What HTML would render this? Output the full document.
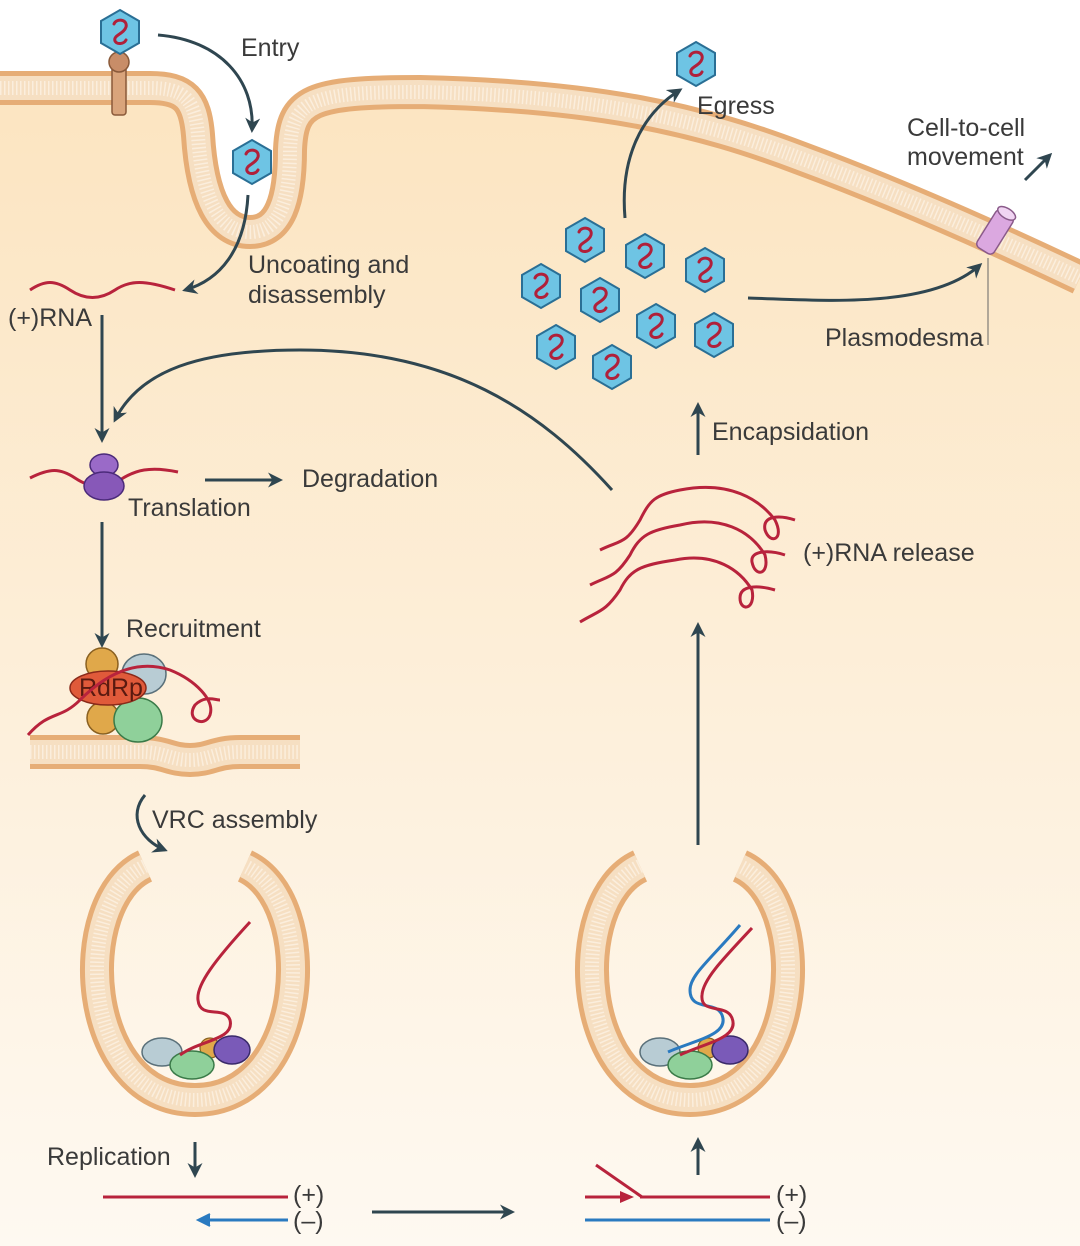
<!DOCTYPE html>
<html><head><meta charset="utf-8"><style>
html,body{margin:0;padding:0;background:#fff}
svg{display:block}
text{font-family:"Liberation Sans",sans-serif;fill:#3a3a3a;font-size:25px}
</style></head><body>
<svg width="1080" height="1246" viewBox="0 0 1080 1246" xmlns="http://www.w3.org/2000/svg">
<defs>
<linearGradient id="bg" x1="0" y1="0" x2="0" y2="1">
<stop offset="0" stop-color="#fce3bd"/><stop offset="0.6" stop-color="#fdf0dc"/><stop offset="1" stop-color="#fef9f1"/>
</linearGradient>
<marker id="ah" viewBox="0 0 10 10" refX="8" refY="5" markerWidth="5" markerHeight="5" orient="auto-start-reverse">
<path d="M0,0 L10,5 L0,10 L3,5 z" fill="#2f4650"/></marker>
<g id="vir">
<polygon points="0,-22 19,-11 19,11 0,22 -19,11 -19,-11" fill="#6ec4e4" stroke="#2a6f95" stroke-width="2"/>
<path d="M-6,-8 C-4,-14 8,-13 6,-5 C4,2 -7,3 -5,9 C-3,13 4,12 6,8" fill="none" stroke="#b0203a" stroke-width="3" stroke-linecap="round"/>
</g>
</defs>
<rect width="1080" height="1246" fill="url(#bg)"/>
<path d="M0,0 H1080 V272 C1000,240 900,190 800,150 C700,115 600,90 420,85 C330,82 300,90 290,120 C285,160 285,200 255,222 C220,230 205,190 200,130 C195,90 180,80 150,80 H0 z" fill="#fff"/>
<path id="m1" fill="none" d="M0,88 H150 C185,88 195,100 198,135 C202,200 220,232 250,232 C280,232 290,200 290,150 C292,100 310,92 420,92 C600,96 700,120 800,158 C900,195 1000,240 1080,278"/>
<use href="#m1" stroke="#e6ad76" stroke-width="34" fill="none"/>
<use href="#m1" stroke="#f6dfc2" stroke-width="24" fill="none"/>
<use href="#m1" stroke="#fbeedd" stroke-width="14" stroke-dasharray="1.5 2.5" fill="none"/>
<rect x="112" y="60" width="14" height="55" rx="3" fill="#d9a47b" stroke="#8a5a3a" stroke-width="1.5"/>
<circle cx="119" cy="62" r="10" fill="#c88d68" stroke="#8a5a3a" stroke-width="1.5"/>
<g transform="translate(995,232) rotate(-58)">
<rect x="-22" y="-10" width="44" height="20" rx="5" fill="#dba8e0" stroke="#8a5a8a" stroke-width="1.5"/>
<ellipse cx="22" cy="0" rx="5" ry="10" fill="#f0d4f2" stroke="#8a5a8a" stroke-width="1.5"/>
</g>
<line x1="988" y1="258" x2="988" y2="345" stroke="#666" stroke-width="1"/>
<use href="#vir" x="120" y="32"/>
<use href="#vir" x="252" y="162"/>
<use href="#vir" x="696" y="64"/>
<use href="#vir" x="585" y="240"/><use href="#vir" x="645" y="256"/><use href="#vir" x="705" y="270"/>
<use href="#vir" x="541" y="286"/><use href="#vir" x="600" y="300"/><use href="#vir" x="656" y="326"/>
<use href="#vir" x="714" y="335"/><use href="#vir" x="556" y="347"/><use href="#vir" x="612" y="367"/>
<g fill="none" stroke="#2f4650" stroke-width="3" marker-end="url(#ah)">
<path d="M158,35 C220,40 255,80 252,130"/>
<path d="M248,195 C245,250 220,280 185,290"/>
<path d="M102,315 V440"/>
<path d="M102,522 V645"/>
<path d="M205,480 H280"/>
<path d="M612,490 C540,410 450,350 300,350 C200,350 140,370 115,420"/>
<path d="M625,218 C620,160 640,115 680,90"/>
<path d="M748,298 C820,300 930,310 980,265"/>
<path d="M1025,180 L1050,155"/>
<path d="M698,455 V405"/>
<path d="M698,845 V625"/>
<path d="M145,795 C128,815 140,840 165,850"/>
<path d="M195,1142 V1175"/>
<path d="M372,1212 H512"/>
<path d="M698,1175 V1140"/>
</g>
<path d="M30,290 C45,280 55,280 70,290 S100,300 115,290 S145,280 175,290" fill="none" stroke="#b8233c" stroke-width="3"/>
<path d="M30,478 C50,468 60,468 75,478 S105,490 120,480 S150,466 178,472" fill="none" stroke="#b8233c" stroke-width="3"/>
<ellipse cx="104" cy="465" rx="14" ry="11" fill="#9a6ac8" stroke="#4b2a7a" stroke-width="1.5"/>
<ellipse cx="104" cy="486" rx="20" ry="14" fill="#8758b8" stroke="#4b2a7a" stroke-width="1.5"/>
<path id="m2" d="M30,752 H140 C165,752 170,760 190,760 C210,760 215,752 240,752 H300" fill="none"/>
<use href="#m2" stroke="#e6ad76" stroke-width="34" fill="none"/>
<use href="#m2" stroke="#f6dfc2" stroke-width="24" fill="none"/>
<use href="#m2" stroke="#fbeedd" stroke-width="14" stroke-dasharray="1.5 2.5" fill="none"/>
<circle cx="102" cy="664" r="16" fill="#e0a84a" stroke="#8a6020" stroke-width="1.5"/>
<circle cx="103" cy="718" r="16" fill="#e0a84a" stroke="#8a6020" stroke-width="1.5"/>
<ellipse cx="144" cy="674" rx="22" ry="20" fill="#b8ccd4" stroke="#5a707a" stroke-width="1.5"/>
<ellipse cx="138" cy="720" rx="24" ry="22" fill="#8fd09a" stroke="#3a7a48" stroke-width="1.5"/>
<ellipse cx="108" cy="688" rx="38" ry="17" fill="#e05a3a" stroke="#8a2a1a" stroke-width="1.5"/>
<text x="79" y="696" font-size="19" style="fill:#5a1a10">RdRp</text>
<path d="M28,735 C50,710 60,720 80,700 C110,670 140,660 170,670 C195,680 215,700 210,715 C205,728 185,720 195,705 C205,695 215,700 220,700" fill="none" stroke="#b8233c" stroke-width="3"/>
<path id="v1" d="M145,866 C70,900 80,1100 195,1100 C310,1100 320,900 245,866" fill="none"/>
<path id="v2" d="M640,866 C565,900 575,1100 690,1100 C805,1100 815,900 740,866" fill="none"/>
<g fill="none">
<use href="#v1" stroke="#e6ad76" stroke-width="34"/><use href="#v1" stroke="#f6dfc2" stroke-width="24"/><use href="#v1" stroke="#fbeedd" stroke-width="14" stroke-dasharray="1.5 2.5"/>
<use href="#v2" stroke="#e6ad76" stroke-width="34"/><use href="#v2" stroke="#f6dfc2" stroke-width="24"/><use href="#v2" stroke="#fbeedd" stroke-width="14" stroke-dasharray="1.5 2.5"/>
</g>
<g>
<ellipse cx="162" cy="1052" rx="20" ry="14" fill="#b8ccd4" stroke="#5a707a" stroke-width="1.5"/>
<circle cx="210" cy="1048" r="10" fill="#e0a84a" stroke="#8a6020" stroke-width="1.2"/>
<ellipse cx="232" cy="1050" rx="18" ry="14" fill="#7a5ab8" stroke="#3a2a6a" stroke-width="1.5"/>
<ellipse cx="192" cy="1065" rx="22" ry="14" fill="#8fd09a" stroke="#3a7a48" stroke-width="1.5"/>
<path d="M180,1055 C200,1040 235,1040 230,1020 C225,1005 200,1020 198,1000 C196,985 215,960 250,922" fill="none" stroke="#b8233c" stroke-width="3"/>
<ellipse cx="660" cy="1052" rx="20" ry="14" fill="#b8ccd4" stroke="#5a707a" stroke-width="1.5"/>
<circle cx="708" cy="1048" r="10" fill="#e0a84a" stroke="#8a6020" stroke-width="1.2"/>
<ellipse cx="730" cy="1050" rx="18" ry="14" fill="#7a5ab8" stroke="#3a2a6a" stroke-width="1.5"/>
<ellipse cx="690" cy="1065" rx="22" ry="14" fill="#8fd09a" stroke="#3a7a48" stroke-width="1.5"/>
<path d="M668,1052 C695,1040 730,1035 722,1015 C716,1000 690,1012 690,990 C690,975 710,960 740,925" fill="none" stroke="#2a7ac0" stroke-width="3"/>
<path d="M680,1055 C705,1043 740,1038 732,1018 C726,1003 700,1015 702,995 C703,980 720,962 752,928" fill="none" stroke="#b8233c" stroke-width="3"/>
</g>
<g fill="none" stroke="#b8233c" stroke-width="3">
<path d="M600,550 C620,540 625,545 640,520 C650,500 655,495 680,490 C730,480 760,500 775,520 C785,540 770,545 765,530 C762,515 780,515 795,520"/>
<path d="M590,585 C610,575 615,578 630,555 C640,535 650,530 680,525 C720,515 750,530 765,555 C770,575 755,578 752,562 C750,550 770,550 785,555"/>
<path d="M580,622 C600,610 605,612 620,590 C630,570 640,565 675,560 C715,552 740,570 752,590 C756,610 740,612 740,598 C740,585 758,585 775,590"/>
</g>
<line x1="103" y1="1197" x2="288" y2="1197" stroke="#b8233c" stroke-width="3"/>
<line x1="200" y1="1220" x2="288" y2="1220" stroke="#2a7ac0" stroke-width="3"/>
<path d="M210,1214 L198,1220 L210,1226" fill="#2a7ac0" stroke="#2a7ac0" stroke-width="2"/>
<line x1="640" y1="1197" x2="770" y2="1197" stroke="#b8233c" stroke-width="3"/>
<line x1="596" y1="1165" x2="642" y2="1197" stroke="#b8233c" stroke-width="3"/>
<line x1="585" y1="1197" x2="630" y2="1197" stroke="#b8233c" stroke-width="3"/>
<path d="M620,1191 L634,1197 L620,1203" fill="#b8233c"/>
<line x1="585" y1="1220" x2="770" y2="1220" stroke="#2a7ac0" stroke-width="3"/>
<text x="241" y="56">Entry</text>
<text x="248" y="273">Uncoating and</text>
<text x="248" y="303">disassembly</text>
<text x="8" y="326" font-size="22">(+)RNA</text>
<text x="128" y="516">Translation</text>
<text x="302" y="487">Degradation</text>
<text x="126" y="637">Recruitment</text>
<text x="152" y="828">VRC assembly</text>
<text x="47" y="1165">Replication</text>
<text x="293" y="1203" font-size="20">(+)</text>
<text x="293" y="1229" font-size="20">(–)</text>
<text x="776" y="1203" font-size="20">(+)</text>
<text x="776" y="1229" font-size="20">(–)</text>
<text x="697" y="114">Egress</text>
<text x="907" y="136">Cell-to-cell</text>
<text x="907" y="165">movement</text>
<text x="825" y="346">Plasmodesma</text>
<text x="712" y="440">Encapsidation</text>
<text x="803" y="561">(+)RNA release</text>
</svg>
</body></html>
